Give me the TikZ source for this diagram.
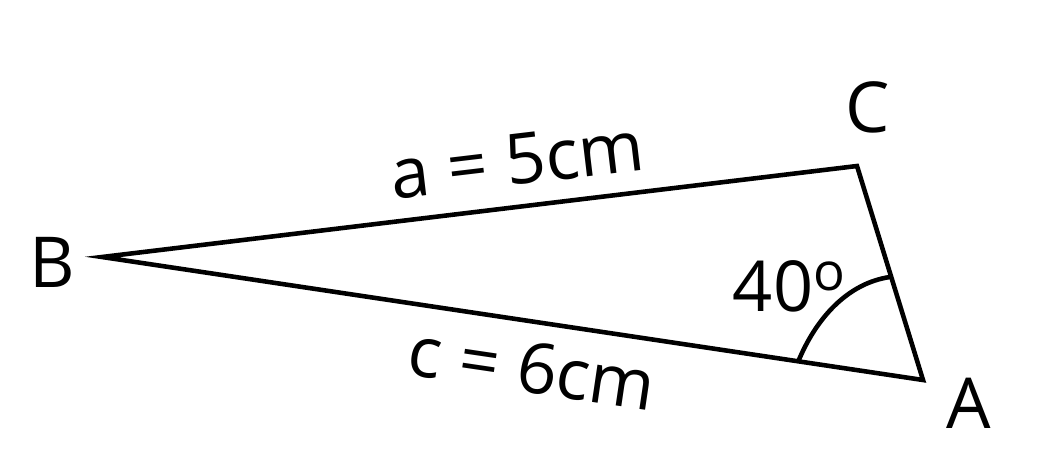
\documentclass[tikz,border=0pt]{standalone}
\usepackage{fontspec}
\setmainfont{Open Sans}
\usepackage{tikz}

\begin{document}
\begin{tikzpicture}[x=0.02cm,y=-0.02cm,line width=2.6pt,line join=miter,vertex label/.style={font=\fontsize{40}{40}\selectfont,inner sep=0pt},side label/.style={font=\fontsize{40}{40}\selectfont,inner sep=0pt}]
    \useasboundingbox (0,0) rectangle (1047,463);
    \coordinate (B) at (102,257);
    \coordinate (C) at (857,166);
    \coordinate (A) at (923,380);
    \coordinate (arcstart) at (798,362);
    \coordinate (arcend) at (890,277);

    \node[vertex label] (labB) at (52,262) {B};
    \node[vertex label] (labC) at (868,107) {C};
    \node[vertex label] (labA) at (969,403) {A};
    \node[side label,rotate=6.8] (sidea) at (517,160) {a = 5cm};
    \node[side label,rotate=-8.4] (sidec) at (532,368) {c = 6cm};
    \node[side label] (angA) at (789,286) {40\raisebox{12pt}{\fontsize{30}{30}\selectfont o}};

    \draw (B) -- (C) -- (A) -- cycle;
    \draw (arcstart) .. controls (816,318) and (848,283) .. (arcend);
  \end{tikzpicture}
\end{document}
